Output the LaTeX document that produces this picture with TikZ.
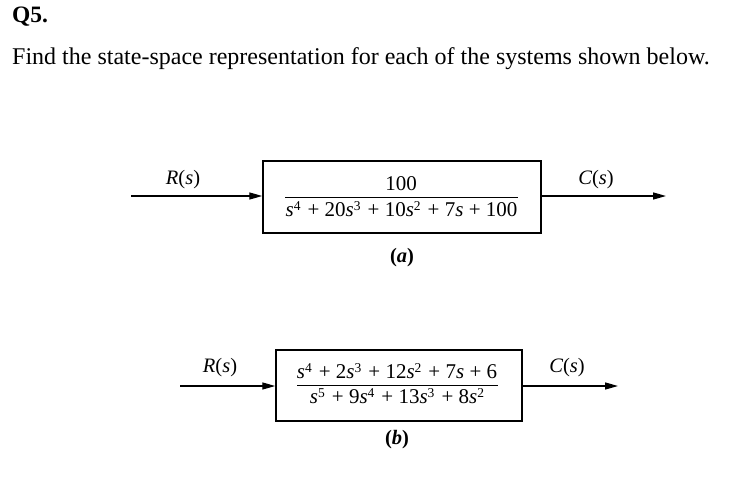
\documentclass[tikz,border=0pt]{standalone}
\usepackage{fontspec}
\setmainfont{Liberation Serif}
\usetikzlibrary{arrows.meta}
\newcommand{\sv}{\textit{s}}
\newcommand{\pw}[1]{\raisebox{0.28em}{\fontsize{13.5}{14}\selectfont #1}\hspace{1.8pt}}
\newcommand{\pl}{\hspace{0.25em}+\hspace{0.25em}}
\begin{document}
\begin{tikzpicture}[x=1pt,y=-1pt,
  blk/.style={draw,line width=1.5pt,minimum height=72pt,inner sep=0pt},
  sig/.style={line width=1.3pt,-{Triangle[length=13pt,width=7pt]}},
  frac/.style={font=\fontsize{21}{24}\selectfont,inner sep=0pt,anchor=base},
  lbl/.style={font=\fontsize{20.5}{22}\selectfont,inner sep=0pt},
  txt/.style={font=\fontsize{24}{28}\selectfont,inner sep=0pt,anchor=base west}]
\useasboundingbox[fill=white] (0,0) rectangle (745,495);
\node[txt,font=\fontsize{23.5}{26}\selectfont\bfseries] (q) at (12,23) {Q5.};
\node[txt] (find) at (12,65) {Find the state-space representation for each of the systems shown below.};
% (a)
\node[blk,minimum width=278pt] (ba) at (402,197) {};
\node[frac] (na) at (401,190.5) {100};
\node[frac] (da) at (401.5,216) {\sv\pw{4}\pl 20\sv\pw{3}\pl 10\sv\pw{2}\pl 7\sv\pl 100};
\coordinate (fa1) at (285,197.5);
\coordinate (fa2) at (518,197.5);
\draw[line width=1pt] (fa1) -- (fa2);
\coordinate (ia) at (131,196);
\coordinate (oa) at (666,196);
\draw[sig] (ia) -- (ba.west|-ia);
\draw[sig] (ba.east|-oa) -- (oa);
\node[lbl] (ra) at (183,180) {\textit{R}(\sv)};
\node[lbl] (ca) at (596,180) {\textit{C}(\sv)};
\node[lbl] (la) at (402,258) {\textbf{(\textit{a})}};
% (b)
\node[blk,minimum width=246pt,minimum height=71pt] (bb) at (399,385.5) {};
\node[frac] (nb) at (397,378) {\sv\pw{4}\pl 2\sv\pw{3}\pl 12\sv\pw{2}\pl 7\sv\pl 6};
\node[frac] (db) at (397,403) {\sv\pw{5}\pl 9\sv\pw{4}\pl 13\sv\pw{3}\pl 8\sv\pw{2}};
\coordinate (fb1) at (297,385.5);
\coordinate (fb2) at (498,385.5);
\draw[line width=1pt] (fb1) -- (fb2);
\coordinate (ib) at (180,386);
\coordinate (ob) at (618,386);
\draw[sig] (ib) -- (bb.west|-ib);
\draw[sig] (bb.east|-ob) -- (ob);
\node[lbl] (rb) at (220,368) {\textit{R}(\sv)};
\node[lbl] (cb) at (567,368) {\textit{C}(\sv)};
\node[lbl] (lb) at (397,440) {\textbf{(\textit{b})}};
\end{tikzpicture}
\end{document}
